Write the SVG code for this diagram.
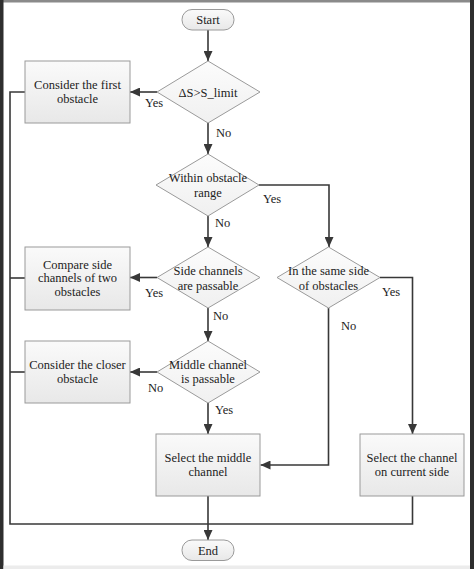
<svg xmlns="http://www.w3.org/2000/svg" width="474" height="569" viewBox="0 0 474 569">
<defs>
<linearGradient id="gb" x1="0" y1="0" x2="0" y2="1"><stop offset="0" stop-color="#fafafa"/><stop offset="1" stop-color="#e8e8e8"/></linearGradient>
<linearGradient id="gd" x1="0" y1="0" x2="0" y2="1"><stop offset="0" stop-color="#fcfcfc"/><stop offset="1" stop-color="#f0f0f0"/></linearGradient>
<marker id="ah" markerUnits="userSpaceOnUse" markerWidth="10" markerHeight="9" refX="10" refY="4.5" orient="auto"><path d="M0,0 L10,4.5 L0,9 z" fill="#383838"/></marker>
</defs>
<style>
.box{fill:url(#gb);stroke:#9a9a9a;stroke-width:1}
.dia{fill:url(#gd);stroke:#9a9a9a;stroke-width:1}
.t{font-family:"Liberation Serif","Times New Roman",serif;font-size:12.5px;fill:#222;text-anchor:middle}
.l{font-family:"Liberation Serif","Times New Roman",serif;font-size:12.5px;fill:#222}
.c{fill:none;stroke:#383838;stroke-width:1.6}
.a{marker-end:url(#ah)}
</style>
<rect x="0" y="0" width="474" height="569" fill="#fff"/>
<rect x="0" y="0" width="474" height="2.5" fill="#8a8a8a"/>
<rect x="0" y="0" width="3.5" height="569" fill="#2e2e2e"/>
<rect x="470" y="0" width="4" height="569" fill="#2e2e2e"/>
<rect x="3.5" y="565.5" width="466.5" height="3.5" fill="#ececec"/>

<g id="connectors">
<path class="c a" d="M208,30 V61"/>
<path class="c a" d="M157,92 H130"/>
<path class="c a" d="M208,123 V154"/>
<path class="c a" d="M259,185 H329 V247"/>
<path class="c a" d="M208,216 V247"/>
<path class="c a" d="M157,277.5 H130"/>
<path class="c a" d="M380,277.5 H412.5 V434"/>
<path class="c a" d="M208,308 V341"/>
<path class="c a" d="M328.5,308 V465 H260.5"/>
<path class="c a" d="M157,372 H130"/>
<path class="c a" d="M208,403 V434"/>
<path class="c" d="M25,92 H10 V524 H412.5 V496"/>
<path class="c" d="M25,278 H10"/>
<path class="c" d="M25,372 H10"/>
<path class="c a" d="M208,496 V540"/>
<text class="l" x="145" y="107">Yes</text>
<text class="l" x="216" y="137">No</text>
<text class="l" x="263" y="203">Yes</text>
<text class="l" x="215" y="227">No</text>
<text class="l" x="145" y="297">Yes</text>
<text class="l" x="382" y="296">Yes</text>
<text class="l" x="213" y="320">No</text>
<text class="l" x="341" y="330">No</text>
<text class="l" x="148" y="392">No</text>
<text class="l" x="215" y="414">Yes</text>
</g>

<g id="start"><rect class="box" x="182" y="9.5" width="52" height="20.5" rx="10"/><text class="t" x="208" y="24">Start</text></g>
<g id="d1"><path class="dia" d="M208,61 L260,92 L208,123 L157,92 Z"/><text class="t" x="208" y="96.5">ΔS&gt;S_limit</text></g>
<g id="b1"><rect class="box" x="25" y="61" width="105" height="62"/><text class="t" x="77.5" y="89">Consider the first</text><text class="t" x="77.5" y="103">obstacle</text></g>
<g id="d2"><path class="dia" d="M208,154 L259,185 L208,216 L156,185 Z"/><text class="t" x="208" y="182">Within obstacle</text><text class="t" x="208" y="197">range</text></g>
<g id="d3"><path class="dia" d="M208,247 L260,277.5 L208,308 L157,277.5 Z"/><text class="t" x="208" y="275">Side channels</text><text class="t" x="208" y="289.5">are passable</text></g>
<g id="d4"><path class="dia" d="M328.5,247 L380,277.5 L328.5,308 L277,277.5 Z"/><text class="t" x="328.5" y="275">In  the same side</text><text class="t" x="328.5" y="289.5">of obstacles</text></g>
<g id="b2"><rect class="box" x="25" y="247" width="105" height="63"/><text class="t" x="77.5" y="268.5">Compare side</text><text class="t" x="77.5" y="282">channels of two</text><text class="t" x="77.5" y="296">obstacles</text></g>
<g id="d5"><path class="dia" d="M208,341 L260,372 L208,403 L157,372 Z"/><text class="t" x="208" y="369">Middle channel</text><text class="t" x="208" y="383">is passable</text></g>
<g id="b3"><rect class="box" x="25" y="341" width="105" height="62"/><text class="t" x="77.5" y="369">Consider the closer</text><text class="t" x="77.5" y="383">obstacle</text></g>
<g id="b4"><rect class="box" x="156" y="434" width="104" height="62"/><text class="t" x="208" y="462">Select the middle</text><text class="t" x="208" y="476">channel</text></g>
<g id="b5"><rect class="box" x="360" y="434" width="104" height="62"/><text class="t" x="412" y="462">Select the channel</text><text class="t" x="412" y="476">on current side</text></g>
<g id="end"><rect class="box" x="182" y="540" width="52" height="20.5" rx="10"/><text class="t" x="208" y="554.5">End</text></g>
</svg>
